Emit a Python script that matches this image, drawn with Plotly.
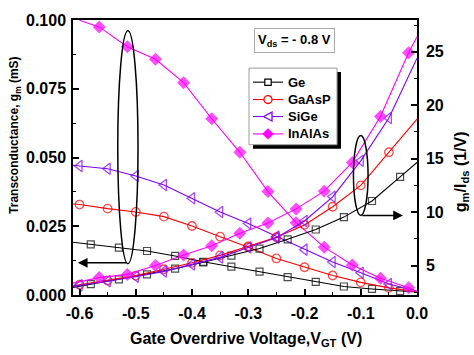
import plotly.graph_objects as go

# ---------------- data ----------------
x_start = -0.6116
x_end = 0.0

ge_x = [-0.58, -0.53, -0.48, -0.43, -0.38, -0.33, -0.28, -0.23, -0.18, -0.13, -0.08, -0.03]
ge_gm = [0.0184, 0.0172, 0.0160, 0.0142, 0.0121, 0.0103, 0.0085, 0.0065, 0.0048, 0.0031, 0.0022, 0.0014]
ge_gmids = [3.25, 3.71, 4.17, 4.70, 5.30, 5.92, 6.59, 7.45, 8.37, 9.53, 11.04, 13.3]
ge_gm_ends = [0.0192, 0.0011]
ge_gmids_ends = [2.95, 14.65]

gaasp_x = [-0.60, -0.55, -0.50, -0.45, -0.40, -0.35, -0.30, -0.25, -0.20, -0.15, -0.10, -0.05]
gaasp_gm = [0.0329, 0.0314, 0.0302, 0.0285, 0.0251, 0.0212, 0.0174, 0.0133, 0.0101, 0.0071, 0.0046, 0.0026]
gaasp_gmids = [3.2, 3.6, 4.05, 4.65, 5.25, 5.95, 6.8, 7.65, 8.8, 10.5, 12.5, 15.6]
gaasp_gm_ends = [0.0331, 0.0012]
gaasp_gmids_ends = [3.1, 18.7]

sige_x = [-0.60, -0.55, -0.50, -0.45, -0.40, -0.35, -0.30, -0.25, -0.20, -0.15, -0.10, -0.05]
sige_gm = [0.0469, 0.0459, 0.0433, 0.0400, 0.0352, 0.0302, 0.0260, 0.0213, 0.0165, 0.0120, 0.0081, 0.0040]
sige_gmids = [3.16, 3.53, 3.95, 4.45, 5.1, 5.76, 6.68, 7.6, 9.17, 11.43, 14.8, 18.8]
sige_gm_ends = [0.0472, 0.0014]
sige_gmids_ends = [3.05, 24.4]

inalas_x = [-0.565, -0.515, -0.465, -0.415, -0.365, -0.315, -0.265, -0.215, -0.165, -0.115, -0.065, -0.015]
inalas_gm = [0.0975, 0.0903, 0.0857, 0.0772, 0.0641, 0.0519, 0.0376, 0.0263, 0.0174, 0.0109, 0.0061, 0.0026]
inalas_gmids = [3.87, 4.17, 5.0, 5.98, 6.84, 8.01, 8.98, 10.3, 11.96, 14.65, 18.94, 24.92]
inalas_gm_start_x = -0.60
inalas_gm_ends = [0.0999, 0.0012]
inalas_gmids_ends = [3.35, 26.4]

x_ticks = [-0.6, -0.5, -0.4, -0.3, -0.2, -0.1, 0.0]
x_tick_labels = ["-0.6", "-0.5", "-0.4", "-0.3", "-0.2", "-0.1", "0.0"]
y_ticks = [0.0, 0.025, 0.05, 0.075, 0.1]
y_tick_labels = ["0.000", "0.025", "0.050", "0.075", "0.100"]
y2_ticks = [5, 10, 15, 20, 25]
y2_tick_labels = ["5", "10", "15", "20", "25"]

series_names = ["Ge", "GaAsP", "SiGe", "InAlAs"]

series = [
    ("Ge", ge_x, ge_gm, ge_gmids, ge_gm_ends, ge_gmids_ends, x_start,
     "#000000", "square-open", 7, 1.2),
    ("GaAsP", gaasp_x, gaasp_gm, gaasp_gmids, gaasp_gm_ends, gaasp_gmids_ends, x_start,
     "#ff0000", "circle-open", 8.5, 1.3),
    ("SiGe", sige_x, sige_gm, sige_gmids, sige_gm_ends, sige_gmids_ends, x_start,
     "#8000ff", "triangle-left-open", 10, 1.3),
    ("InAlAs", inalas_x, inalas_gm, inalas_gmids, inalas_gm_ends, inalas_gmids_ends, inalas_gm_start_x,
     "#ff00ff", "diamond", 10, 0),
]

FONT = "Liberation Sans, Arial, sans-serif"

# layout geometry (pixels)
W, H = 474, 355
ML, MR, MT, MB = 73, 57, 15, 60
PW, PH = W - ML - MR, H - MT - MB


def px(x):
    return (x - ML) / PW


def py(y):
    return (H - MB - y) / PH


fig = go.Figure()
for name, xs, gm, gmids, gm_ends, gmids_ends, gm_x0, color, sym, msize, mlw in series:
    n = len(xs)
    sizes = [0] + [msize] * n + [0]
    fig.add_trace(go.Scatter(
        x=[gm_x0] + xs + [x_end], y=[gm_ends[0]] + gm + [gm_ends[1]],
        mode="lines+markers", name=name, showlegend=False,
        line=dict(color=color, width=1.1),
        marker=dict(symbol=sym, size=sizes, color=color, line=dict(color=color, width=mlw)),
        yaxis="y",
    ))
    fig.add_trace(go.Scatter(
        x=[x_start] + xs + [x_end], y=[gmids_ends[0]] + gmids + [gmids_ends[1]],
        mode="lines+markers", name=name, showlegend=False,
        line=dict(color=color, width=1.1),
        marker=dict(symbol=sym, size=sizes, color=color, line=dict(color=color, width=mlw)),
        yaxis="y2",
    ))

tickfont = dict(family=FONT, size=16, color="black", weight="bold")
axis_common = dict(showgrid=False, zeroline=False, showline=True, linecolor="black",
                   linewidth=1.5, ticks="inside", tickcolor="black", tickwidth=1.5,
                   ticklen=6, tickfont=tickfont)

# ----- legend drawn as layout decoration (box, shadow, keys, text) -----
shapes = []
annotations = []
lg_l, lg_r, lg_t, lg_b = 249, 337, 64, 142
shapes.append(dict(type="rect", xref="paper", yref="paper",
                   x0=px(lg_l + 4), x1=px(lg_r + 4), y0=py(lg_b + 4), y1=py(lg_t + 4),
                   fillcolor="black", line=dict(width=0), layer="above"))
shapes.append(dict(type="rect", xref="paper", yref="paper",
                   x0=px(lg_l), x1=px(lg_r), y0=py(lg_b), y1=py(lg_t),
                   fillcolor="white", line=dict(color="#9a9a9a", width=1), layer="above"))
row_y = [78.3, 96, 113.3, 131]
key_x0, key_x1, key_c = 253, 283, 268
for (name, xs, gm, gmids, gm_ends, gmids_ends, gm_x0, color, sym, msize, mlw), yy in zip(series, row_y):
    shapes.append(dict(type="line", xref="paper", yref="paper",
                       x0=px(key_x0), x1=px(key_x1), y0=py(yy), y1=py(yy),
                       line=dict(color=color, width=1.1), layer="above"))
    if sym == "square-open":
        shapes.append(dict(type="rect", xref="paper", yref="paper",
                           x0=px(key_c - 3.2), x1=px(key_c + 3.2), y0=py(yy + 3.2), y1=py(yy - 3.2),
                           fillcolor="white", line=dict(color=color, width=1.2), layer="above"))
    elif sym == "circle-open":
        shapes.append(dict(type="circle", xref="paper", yref="paper",
                           x0=px(key_c - 4), x1=px(key_c + 4), y0=py(yy + 4), y1=py(yy - 4),
                           fillcolor="white", line=dict(color=color, width=1.3), layer="above"))
    elif sym == "triangle-left-open":
        path = "M {:.5f},{:.5f} L {:.5f},{:.5f} L {:.5f},{:.5f} Z".format(
            px(key_c - 4.5), py(yy), px(key_c + 4), py(yy - 4.5), px(key_c + 4), py(yy + 4.5))
        shapes.append(dict(type="path", xref="paper", yref="paper", path=path,
                           fillcolor="white", line=dict(color=color, width=1.3), layer="above"))
    else:
        path = "M {:.5f},{:.5f} L {:.5f},{:.5f} L {:.5f},{:.5f} L {:.5f},{:.5f} Z".format(
            px(key_c), py(yy - 5.5), px(key_c + 5.5), py(yy), px(key_c), py(yy + 5.5), px(key_c - 5.5), py(yy))
        shapes.append(dict(type="path", xref="paper", yref="paper", path=path,
                           fillcolor=color, line=dict(color=color, width=0.5), layer="above"))
    annotations.append(dict(text=name, xref="paper", yref="paper", x=px(286), y=py(yy),
                            xanchor="left", yanchor="middle", showarrow=False,
                            font=dict(family=FONT, size=13, color="black", weight="bold")))

# ellipses
shapes.append(dict(type="circle", xref="x", yref="y", x0=-0.532, x1=-0.496, y0=0.0114, y1=0.0961,
                   line=dict(color="black", width=1.5), layer="above"))
shapes.append(dict(type="circle", xref="x", yref="y2", x0=-0.113, x1=-0.087, y0=9.69, y1=17.16,
                   line=dict(color="black", width=1.5), layer="above"))

annotations += [
    dict(text="Gate Overdrive Voltage,V<sub>GT</sub> (V)", xref="paper", yref="paper",
         x=0.503, y=-0.161, xanchor="center", yanchor="middle", showarrow=False,
         font=dict(family=FONT, size=16, color="black", weight="bold")),
    dict(text="Transconductance, g<sub>m</sub> (mS)", xref="paper", yref="paper",
         x=px(15), y=py(133), xanchor="center", yanchor="middle", showarrow=False, textangle=-90,
         font=dict(family=FONT, size=12, color="black", weight="bold")),
    dict(text="g<sub>m</sub>/I<sub>ds</sub> (1/V)", xref="paper", yref="paper",
         x=px(461), y=py(170), xanchor="center", yanchor="middle", showarrow=False, textangle=-90,
         font=dict(family=FONT, size=16, color="black", weight="bold")),
    dict(text="V<sub>ds</sub> = - 0.8 V", xref="paper", yref="paper",
         x=px(294), y=py(36), xanchor="center", yanchor="middle", showarrow=False,
         bgcolor="white", bordercolor="#aaaaaa", borderwidth=1, borderpad=3,
         font=dict(family=FONT, size=13, color="black", weight="bold")),
    dict(text="", xref="x", yref="y", x=-0.603, y=0.0117, axref="x", ayref="y",
         ax=-0.514, ay=0.0117, showarrow=True, arrowhead=2, arrowsize=1.3,
         arrowwidth=1.5, arrowcolor="black"),
    dict(text="", xref="x", yref="y2", x=-0.025, y=9.69, axref="x", ayref="y2",
         ax=-0.100, ay=9.69, showarrow=True, arrowhead=2, arrowsize=1.3,
         arrowwidth=1.5, arrowcolor="black"),
]

fig.update_layout(
    width=W, height=H, autosize=False,
    margin=dict(l=ML, r=MR, t=MT, b=MB),
    paper_bgcolor="white", plot_bgcolor="white",
    font=dict(family=FONT, color="black"),
    showlegend=False,
    xaxis=dict(range=[x_start, x_end], tickmode="array", tickvals=x_ticks, ticktext=x_tick_labels,
               mirror=True, ticklabelstandoff=3,
               minor=dict(dtick=0.05, tick0=0, ticks="inside", ticklen=3, tickwidth=1.2, tickcolor="black"),
               **axis_common),
    yaxis=dict(range=[0, 0.1], tickmode="array", tickvals=y_ticks, ticktext=y_tick_labels,
               ticklabelstandoff=2,
               minor=dict(dtick=0.0125, tick0=0, ticks="inside", ticklen=3, tickwidth=1.2, tickcolor="black"),
               **axis_common),
    yaxis2=dict(range=[2.24, 27.98], overlaying="y", side="right", tickmode="array",
                tickvals=y2_ticks, ticktext=y2_tick_labels, ticklabelstandoff=4,
                minor=dict(dtick=2.5, tick0=0, ticks="inside", ticklen=3, tickwidth=1.2, tickcolor="black"),
                **axis_common),
    shapes=shapes,
    annotations=annotations,
)

fig.write_html("out.html", config={"displayModeBar": False},
               post_script="document.body.style.margin='0px';document.body.style.padding='0px';document.body.style.overflow='hidden';")
